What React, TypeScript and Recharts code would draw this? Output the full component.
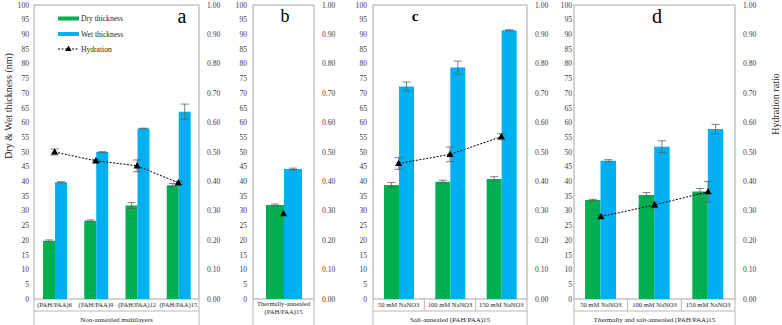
import React from 'react';
import { ComposedChart, Bar, Line, XAxis, YAxis, ErrorBar, ReferenceArea } from 'recharts';

const FONT = '"Liberation Serif", "Times New Roman", serif';
const GREEN = '#00B050';
const BLUE = '#00B0F0';
const BORDER = '#A6A6A6';
const ERR = '#5F5F5F';
const TICK = '#3A3A3A';

// ---- data ----
const leftTicks = [0, 5, 10, 15, 20, 25, 30, 35, 40, 45, 50, 55, 60, 65, 70, 75, 80, 85, 90, 95, 100];
const rightTicks = [0, 0.1, 0.2, 0.3, 0.4, 0.5, 0.6, 0.7, 0.8, 0.9, 1.0];

// Panel a
const catsA = ['(PAH/PAA)6', '(PAH/PAA)9', '(PAH/PAA)12', '(PAH/PAA)15'];
const dryA = [19.8, 26.6, 31.8, 38.7];
const dryErrA = [0.3, 0.3, 1.0, 0.6];
const wetA = [39.7, 50.0, 58.0, 63.7];
const wetErrA = [0.2, 0.1, 0.1, 2.6];
const hydA = [0.5, 0.47, 0.453, 0.395];
const hydErrA = [0.01, 0.005, 0.02, 0.005];

// Panel b
const catsB = ['Thermally-annealed|(PAH/PAA)15'];
const dryB = [32.0];
const dryErrB = [0.3];
const wetB = [44.2];
const wetErrB = [0.3];
const hydB = [0.29];
const hydErrB = [0];

// Panel c
const catsC = ['50 mM NaNO3', '100 mM NaNO3', '150 mM NaNO3'];
const dryC = [38.8, 39.9, 40.8];
const dryErrC = [0.8, 0.5, 0.8];
const wetC = [72.3, 78.7, 91.4];
const wetErrC = [1.5, 2.2, 0.2];
const hydC = [0.461, 0.492, 0.552];
const hydErrC = [0.02, 0.025, 0.01];

// Panel d
const catsD = ['50 mM NaNO3', '100 mM NaNO3', '150 mM NaNO3'];
const dryD = [33.7, 35.4, 36.6];
const dryErrD = [0.2, 0.8, 1.0];
const wetD = [47.0, 51.8, 57.8];
const wetErrD = [0.4, 2.0, 1.6];
const hydD = [0.28, 0.32, 0.365];
const hydErrD = [0.005, 0.01, 0.035];

const groupA = 'Non-annealed multilayers';
const groupC = 'Salt-annealed  (PAH/PAA)15';
const groupD = 'Thermally and  salt-annealed (PAH/PAA)15';

function buildRows(cats: string[], dry: number[], dryErr: number[], wet: number[], wetErr: number[], hyd: number[], hydErr: number[]) {
  return cats.map((name, i) => ({
    name,
    dry: dry[i],
    dryErr: dryErr[i],
    wet: wet[i],
    wetErr: wetErr[i],
    hyd: hyd[i],
    hydErr: hydErr[i],
  }));
}

const rowsA = buildRows(catsA, dryA, dryErrA, wetA, wetErrA, hydA, hydErrA);
const rowsB = buildRows(catsB, dryB, dryErrB, wetB, wetErrB, hydB, hydErrB);
const rowsC = buildRows(catsC, dryC, dryErrC, wetC, wetErrC, hydC, hydErrC);
const rowsD = buildRows(catsD, dryD, dryErrD, wetD, wetErrD, hydD, hydErrD);

const renderTriangle = (props: any) => {
  const { cx, cy, index } = props;
  if (cx == null || cy == null) return <g key={`t${index}`} />;
  return (
    <path
      key={`t${index}`}
      d={`M${cx},${cy - 3.8} L${cx + 3.6},${cy + 2.6} L${cx - 3.6},${cy + 2.6} Z`}
      fill="#000"
    />
  );
};

type TickOpts = { bw: number; count: number; sep: boolean; group: boolean };

const CAT_FS = 6.6;

const makeTick = (o: TickOpts) => (props: any) => {
  const { x, y, payload, index } = props;
  const half = o.bw / 2;
  const label: string = String(payload.value);
  const lines = label.split('|');
  const parts: any[] = [];
  if (lines.length === 1) {
    parts.push(
      <text key="t" x={x} y={y + 6} dy="0.35em" textAnchor="middle" fontSize={CAT_FS} fill="#262626" fontFamily={FONT}>
        {lines[0]}
      </text>
    );
  } else {
    lines.forEach((ln, k) => {
      parts.push(
        <text key={`t${k}`} x={x} y={y + 5 + k * 8} dy="0.35em" textAnchor="middle" fontSize={CAT_FS} fill="#262626" fontFamily={FONT}>
          {ln}
        </text>
      );
    });
  }
  if (o.group) {
    parts.push(<line key="h" x1={x - half} x2={x + half} y1={y + 12} y2={y + 12} stroke={BORDER} strokeWidth={0.8} />);
  }
  if (index === 0) {
    parts.push(<line key="l" x1={x - half} x2={x - half} y1={y} y2={y + 26} stroke={BORDER} strokeWidth={0.8} />);
  } else if (o.sep) {
    parts.push(<line key="s" x1={x - half} x2={x - half} y1={y} y2={y + 12} stroke={BORDER} strokeWidth={0.8} />);
  }
  if (index === o.count - 1) {
    parts.push(<line key="r" x1={x + half} x2={x + half} y1={y} y2={y + 26} stroke={BORDER} strokeWidth={0.8} />);
  }
  return <g>{parts}</g>;
};

type PanelProps = {
  rows: any[];
  left: number;
  width: number;
  leftW: number;
  rightW: number;
  leftMargin: number;
  barSize: number;
  sep: boolean;
  group?: string;
  children?: any;
};

function Panel(p: PanelProps) {
  const plotW = p.width - p.leftW - p.rightW;
  const bw = plotW / p.rows.length;
  const tick = makeTick({ bw, count: p.rows.length, sep: p.sep, group: !!p.group });
  return (
    <div style={{ position: 'absolute', left: p.left, top: 0 }}>
      <ComposedChart
        width={p.width}
        height={325}
        data={p.rows}
        margin={{ top: 5, right: 0, bottom: 0, left: 0 }}
        barGap={0}
        style={{ fontFamily: FONT }}
      >
        <XAxis
          dataKey="name"
          height={26}
          interval={0}
          tickLine={false}
          axisLine={false}
          tickSize={0}
          tickMargin={0}
          tick={tick}
          label={
            p.group
              ? { value: p.group, position: 'insideBottom', offset: 3.5, fontSize: 7, fill: '#262626', fontFamily: FONT }
              : undefined
          }
        />
        <YAxis
          yAxisId="left"
          orientation="left"
          width={p.leftW}
          domain={[0, 100]}
          ticks={leftTicks}
          interval={0}
          tickLine={false}
          axisLine={false}
          tickSize={0}
          tickMargin={p.leftMargin}
          tick={{ fontSize: 7.6, fill: TICK, fontFamily: FONT }}
        />
        <YAxis
          yAxisId="right"
          orientation="right"
          width={p.rightW}
          domain={[0, 1]}
          ticks={rightTicks}
          interval={0}
          tickLine={false}
          axisLine={false}
          tickSize={0}
          tickMargin={8}
          tickFormatter={(v: number) => v.toFixed(2)}
          tick={{ fontSize: 7.6, fill: TICK, fontFamily: FONT, textAnchor: 'start' }}
        />
        <ReferenceArea yAxisId="left" y1={0} y2={100} fill="none" stroke={BORDER} strokeWidth={1} ifOverflow="visible" />
        <Bar yAxisId="left" dataKey="dry" fill={GREEN} barSize={p.barSize} isAnimationActive={false}>
          <ErrorBar dataKey="dryErr" width={4} stroke={ERR} strokeWidth={0.8} direction="y" />
        </Bar>
        <Bar yAxisId="left" dataKey="wet" fill={BLUE} barSize={p.barSize} isAnimationActive={false}>
          <ErrorBar dataKey="wetErr" width={4} stroke={ERR} strokeWidth={0.8} direction="y" />
        </Bar>
        <Line
          yAxisId="right"
          dataKey="hyd"
          stroke="#000"
          strokeWidth={1}
          strokeDasharray="2 1.5"
          dot={renderTriangle}
          activeDot={false}
          isAnimationActive={false}
        >
          <ErrorBar dataKey="hydErr" width={4} stroke={ERR} strokeWidth={0.8} direction="y" />
        </Line>
        {p.children}
      </ComposedChart>
    </div>
  );
}

export default function App() {
  return (
    <div style={{ position: 'absolute', left: 0, top: 0, width: 782, height: 325, background: '#fff', overflow: 'hidden' }}>
      <Panel rows={rowsA} left={0} width={232} leftW={34} rightW={33} leftMargin={5} barSize={12} sep={false} group={groupA}>
        <text transform="translate(8,106) rotate(-90)" textAnchor="middle" dominantBaseline="central" fontSize={10} fill="#262626" fontFamily={FONT}>
          Dry &amp; Wet thickness  (nm)
        </text>
        <g>
          <rect x={58} y={16.5} width={21} height={4} fill={GREEN} />
          <text x={81} y={18.5} dy="0.35em" fontSize={7.6} fill="#262626" fontFamily={FONT}>Dry thickness</text>
          <rect x={58} y={32} width={21} height={4} fill={BLUE} />
          <text x={81} y={34} dy="0.35em" fontSize={7.6} fill="#262626" fontFamily={FONT}>Wet thickness</text>
          <line x1={58} x2={79} y1={49} y2={49} stroke="#000" strokeWidth={1} strokeDasharray="2 1.5" />
          <path d="M68.5,45.6 L71.6,51 L65.4,51 Z" fill="#000" />
          <text x={81} y={49} dy="0.35em" fontSize={7.6} fill="#262626" fontFamily={FONT}>Hydration</text>
        </g>
        <text x={182} y={23} textAnchor="middle" fontSize={20} fill="#000" fontFamily={FONT}>a</text>
      </Panel>
      <Panel rows={rowsB} left={232} width={118} leftW={21} rightW={36} leftMargin={6} barSize={18} sep={false}>
        <text x={53} y={22} textAnchor="middle" fontSize={18} fill="#000" fontFamily={FONT}>b</text>
      </Panel>
      <Panel rows={rowsC} left={350} width={205} leftW={23} rightW={28} leftMargin={6} barSize={15} sep={true} group={groupC}>
        <text x={65} y={21} textAnchor="middle" fontSize={15} fontWeight="bold" fill="#000" fontFamily={FONT}>c</text>
      </Panel>
      <Panel rows={rowsD} left={555} width={227} leftW={19} rightW={47} leftMargin={2} barSize={15.5} sep={true} group={groupD}>
        <text x={102} y={23} textAnchor="middle" fontSize={20} fill="#000" fontFamily={FONT}>d</text>
        <text transform="translate(220,104) rotate(-90)" textAnchor="middle" dominantBaseline="central" fontSize={10} fill="#262626" fontFamily={FONT}>
          Hydration ratio
        </text>
      </Panel>
    </div>
  );
}
